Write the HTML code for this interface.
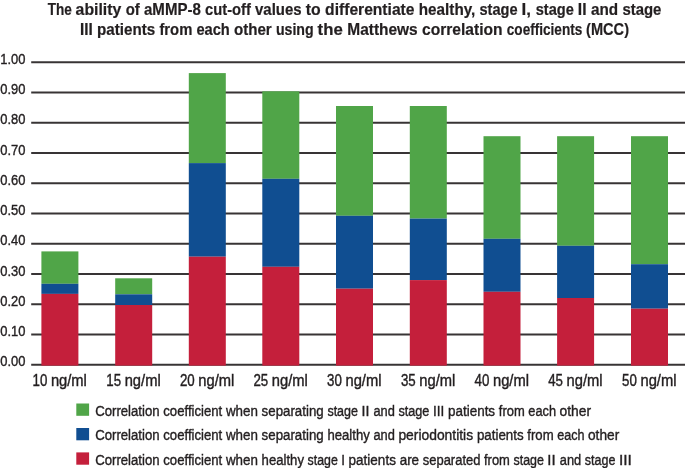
<!DOCTYPE html>
<html lang="en"><head><meta charset="utf-8"><title>aMMP-8 MCC chart</title>
<style>html,body{margin:0;padding:0;background:#fff}svg{display:block}text{font-family:"Liberation Sans",sans-serif;fill:#231f20;stroke:#231f20;stroke-width:0.4px}.t{font-weight:bold;font-size:15.9px;stroke-width:0.2px}.a{font-size:15.3px}.x{font-size:15.6px}.l{font-size:15.2px}</style></head><body>
<svg width="685" height="468" viewBox="0 0 685 468">
<rect width="685" height="468" fill="#fff"/>
<text class="t" x="47.7" y="14.7" textLength="24.1" lengthAdjust="spacingAndGlyphs">The</text>
<text class="t" x="75.6" y="14.7" textLength="45.7" lengthAdjust="spacingAndGlyphs">ability</text>
<text class="t" x="125.7" y="14.7" textLength="14.1" lengthAdjust="spacingAndGlyphs">of</text>
<text class="t" x="144.0" y="14.7" textLength="56.8" lengthAdjust="spacingAndGlyphs">aMMP-8</text>
<text class="t" x="205.0" y="14.7" textLength="45.9" lengthAdjust="spacingAndGlyphs">cut-off</text>
<text class="t" x="255.0" y="14.7" textLength="46.6" lengthAdjust="spacingAndGlyphs">values</text>
<text class="t" x="305.8" y="14.7" textLength="14.9" lengthAdjust="spacingAndGlyphs">to</text>
<text class="t" x="325.1" y="14.7" textLength="89.4" lengthAdjust="spacingAndGlyphs">differentiate</text>
<text class="t" x="418.8" y="14.7" textLength="56.5" lengthAdjust="spacingAndGlyphs">healthy,</text>
<text class="t" x="479.5" y="14.7" textLength="38.1" lengthAdjust="spacingAndGlyphs">stage</text>
<text class="t" x="521.6" y="14.7" textLength="9.4" lengthAdjust="spacingAndGlyphs">I,</text>
<text class="t" x="535.7" y="14.7" textLength="38.1" lengthAdjust="spacingAndGlyphs">stage</text>
<text class="t" x="577.8" y="14.7" textLength="8.7" lengthAdjust="spacingAndGlyphs">II</text>
<text class="t" x="590.9" y="14.7" textLength="27.2" lengthAdjust="spacingAndGlyphs">and</text>
<text class="t" x="622.4" y="14.7" textLength="39.0" lengthAdjust="spacingAndGlyphs">stage</text>
<text class="t" x="80.1" y="35.4" textLength="12.7" lengthAdjust="spacingAndGlyphs">III</text>
<text class="t" x="97.1" y="35.4" textLength="58.1" lengthAdjust="spacingAndGlyphs">patients</text>
<text class="t" x="159.4" y="35.4" textLength="32.9" lengthAdjust="spacingAndGlyphs">from</text>
<text class="t" x="196.4" y="35.4" textLength="33.4" lengthAdjust="spacingAndGlyphs">each</text>
<text class="t" x="233.9" y="35.4" textLength="37.8" lengthAdjust="spacingAndGlyphs">other</text>
<text class="t" x="275.9" y="35.4" textLength="37.8" lengthAdjust="spacingAndGlyphs">using</text>
<text class="t" x="317.6" y="35.4" textLength="25.1" lengthAdjust="spacingAndGlyphs">the</text>
<text class="t" x="347.3" y="35.4" textLength="70.4" lengthAdjust="spacingAndGlyphs">Matthews</text>
<text class="t" x="422.0" y="35.4" textLength="80.5" lengthAdjust="spacingAndGlyphs">correlation</text>
<text class="t" x="506.8" y="35.4" textLength="75.5" lengthAdjust="spacingAndGlyphs">coefficients</text>
<text class="t" x="586.1" y="35.4" textLength="42.9" lengthAdjust="spacingAndGlyphs">(MCC)</text>
<line x1="31.2" x2="685" y1="62.20" y2="62.20" stroke="#383435" stroke-width="1.9"/>
<line x1="31.2" x2="685" y1="92.45" y2="92.45" stroke="#383435" stroke-width="1.9"/>
<line x1="31.2" x2="685" y1="122.70" y2="122.70" stroke="#383435" stroke-width="1.9"/>
<line x1="31.2" x2="685" y1="152.95" y2="152.95" stroke="#383435" stroke-width="1.9"/>
<line x1="31.2" x2="685" y1="183.20" y2="183.20" stroke="#383435" stroke-width="1.9"/>
<line x1="31.2" x2="685" y1="213.45" y2="213.45" stroke="#383435" stroke-width="1.9"/>
<line x1="31.2" x2="685" y1="243.70" y2="243.70" stroke="#383435" stroke-width="1.9"/>
<line x1="31.2" x2="685" y1="273.95" y2="273.95" stroke="#383435" stroke-width="1.9"/>
<line x1="31.2" x2="685" y1="304.20" y2="304.20" stroke="#383435" stroke-width="1.9"/>
<line x1="31.2" x2="685" y1="334.45" y2="334.45" stroke="#383435" stroke-width="1.9"/>
<line x1="31.2" x2="685" y1="364.70" y2="364.70" stroke="#383435" stroke-width="1.9"/>
<text class="a" x="0.3" y="63.90" textLength="25.2" lengthAdjust="spacingAndGlyphs">1.00</text>
<text class="a" x="0.3" y="94.15" textLength="25.2" lengthAdjust="spacingAndGlyphs">0.90</text>
<text class="a" x="0.3" y="124.40" textLength="25.2" lengthAdjust="spacingAndGlyphs">0.80</text>
<text class="a" x="0.3" y="154.65" textLength="25.2" lengthAdjust="spacingAndGlyphs">0.70</text>
<text class="a" x="0.3" y="184.90" textLength="25.2" lengthAdjust="spacingAndGlyphs">0.60</text>
<text class="a" x="0.3" y="215.15" textLength="25.2" lengthAdjust="spacingAndGlyphs">0.50</text>
<text class="a" x="0.3" y="245.40" textLength="25.2" lengthAdjust="spacingAndGlyphs">0.40</text>
<text class="a" x="0.3" y="275.65" textLength="25.2" lengthAdjust="spacingAndGlyphs">0.30</text>
<text class="a" x="0.3" y="305.90" textLength="25.2" lengthAdjust="spacingAndGlyphs">0.20</text>
<text class="a" x="0.3" y="336.15" textLength="25.2" lengthAdjust="spacingAndGlyphs">0.10</text>
<text class="a" x="0.3" y="366.40" textLength="25.2" lengthAdjust="spacingAndGlyphs">0.00</text>
<rect x="41.4" y="251.4" width="37" height="32.4" fill="#50a548"/>
<rect x="41.4" y="283.8" width="37" height="10.1" fill="#104e91"/>
<rect x="41.4" y="293.9" width="37" height="71.7" fill="#c41f3b"/>
<rect x="115.2" y="278.3" width="37" height="16.0" fill="#50a548"/>
<rect x="115.2" y="294.3" width="37" height="10.7" fill="#104e91"/>
<rect x="115.2" y="305.0" width="37" height="60.6" fill="#c41f3b"/>
<rect x="188.8" y="73.1" width="37" height="90.0" fill="#50a548"/>
<rect x="188.8" y="163.1" width="37" height="93.6" fill="#104e91"/>
<rect x="188.8" y="256.7" width="37" height="108.9" fill="#c41f3b"/>
<rect x="262.3" y="91.3" width="37" height="87.5" fill="#50a548"/>
<rect x="262.3" y="178.8" width="37" height="88.0" fill="#104e91"/>
<rect x="262.3" y="266.8" width="37" height="98.8" fill="#c41f3b"/>
<rect x="336.0" y="106.0" width="37" height="109.8" fill="#50a548"/>
<rect x="336.0" y="215.8" width="37" height="72.9" fill="#104e91"/>
<rect x="336.0" y="288.7" width="37" height="76.9" fill="#c41f3b"/>
<rect x="409.8" y="106.0" width="37" height="112.6" fill="#50a548"/>
<rect x="409.8" y="218.6" width="37" height="61.5" fill="#104e91"/>
<rect x="409.8" y="280.1" width="37" height="85.5" fill="#c41f3b"/>
<rect x="483.5" y="136.2" width="37" height="102.6" fill="#50a548"/>
<rect x="483.5" y="238.8" width="37" height="53.0" fill="#104e91"/>
<rect x="483.5" y="291.8" width="37" height="73.8" fill="#c41f3b"/>
<rect x="557.1" y="136.2" width="37" height="109.6" fill="#50a548"/>
<rect x="557.1" y="245.8" width="37" height="52.2" fill="#104e91"/>
<rect x="557.1" y="298.0" width="37" height="67.6" fill="#c41f3b"/>
<rect x="631.0" y="136.2" width="37" height="128.0" fill="#50a548"/>
<rect x="631.0" y="264.2" width="37" height="44.5" fill="#104e91"/>
<rect x="631.0" y="308.7" width="37" height="56.9" fill="#c41f3b"/>
<text class="x" x="32.5" y="386" textLength="14.8" lengthAdjust="spacingAndGlyphs">10</text>
<text class="x" x="50.9" y="386" textLength="36" lengthAdjust="spacingAndGlyphs">ng/ml</text>
<text class="x" x="106.3" y="386" textLength="14.8" lengthAdjust="spacingAndGlyphs">15</text>
<text class="x" x="124.7" y="386" textLength="36" lengthAdjust="spacingAndGlyphs">ng/ml</text>
<text class="x" x="179.9" y="386" textLength="14.8" lengthAdjust="spacingAndGlyphs">20</text>
<text class="x" x="198.3" y="386" textLength="36" lengthAdjust="spacingAndGlyphs">ng/ml</text>
<text class="x" x="253.4" y="386" textLength="14.8" lengthAdjust="spacingAndGlyphs">25</text>
<text class="x" x="271.8" y="386" textLength="36" lengthAdjust="spacingAndGlyphs">ng/ml</text>
<text class="x" x="327.1" y="386" textLength="14.8" lengthAdjust="spacingAndGlyphs">30</text>
<text class="x" x="345.5" y="386" textLength="36" lengthAdjust="spacingAndGlyphs">ng/ml</text>
<text class="x" x="400.9" y="386" textLength="14.8" lengthAdjust="spacingAndGlyphs">35</text>
<text class="x" x="419.3" y="386" textLength="36" lengthAdjust="spacingAndGlyphs">ng/ml</text>
<text class="x" x="474.6" y="386" textLength="14.8" lengthAdjust="spacingAndGlyphs">40</text>
<text class="x" x="493.0" y="386" textLength="36" lengthAdjust="spacingAndGlyphs">ng/ml</text>
<text class="x" x="548.2" y="386" textLength="14.8" lengthAdjust="spacingAndGlyphs">45</text>
<text class="x" x="566.6" y="386" textLength="36" lengthAdjust="spacingAndGlyphs">ng/ml</text>
<text class="x" x="622.1" y="386" textLength="14.8" lengthAdjust="spacingAndGlyphs">50</text>
<text class="x" x="640.5" y="386" textLength="36" lengthAdjust="spacingAndGlyphs">ng/ml</text>
<rect x="76.3" y="403.5" width="12.8" height="12.3" fill="#50a548"/>
<text class="l" x="95.2" y="415.6" textLength="64.4" lengthAdjust="spacingAndGlyphs">Correlation</text>
<text class="l" x="163.3" y="415.6" textLength="58.9" lengthAdjust="spacingAndGlyphs">coefficient</text>
<text class="l" x="225.9" y="415.6" textLength="32.0" lengthAdjust="spacingAndGlyphs">when</text>
<text class="l" x="261.6" y="415.6" textLength="62.1" lengthAdjust="spacingAndGlyphs">separating</text>
<text class="l" x="327.4" y="415.6" textLength="30.6" lengthAdjust="spacingAndGlyphs">stage</text>
<text class="l" x="361.5" y="415.6" textLength="7.9" lengthAdjust="spacingAndGlyphs">II</text>
<text class="l" x="373.4" y="415.6" textLength="21.4" lengthAdjust="spacingAndGlyphs">and</text>
<text class="l" x="398.4" y="415.6" textLength="31.0" lengthAdjust="spacingAndGlyphs">stage</text>
<text class="l" x="432.9" y="415.6" textLength="11.3" lengthAdjust="spacingAndGlyphs">III</text>
<text class="l" x="448.0" y="415.6" textLength="47.1" lengthAdjust="spacingAndGlyphs">patients</text>
<text class="l" x="498.8" y="415.6" textLength="25.9" lengthAdjust="spacingAndGlyphs">from</text>
<text class="l" x="528.3" y="415.6" textLength="27.7" lengthAdjust="spacingAndGlyphs">each</text>
<text class="l" x="559.5" y="415.6" textLength="31.5" lengthAdjust="spacingAndGlyphs">other</text>
<rect x="76.3" y="428.0" width="12.8" height="12.3" fill="#104e91"/>
<text class="l" x="95.2" y="440.1" textLength="64.4" lengthAdjust="spacingAndGlyphs">Correlation</text>
<text class="l" x="163.3" y="440.1" textLength="58.9" lengthAdjust="spacingAndGlyphs">coefficient</text>
<text class="l" x="225.9" y="440.1" textLength="32.0" lengthAdjust="spacingAndGlyphs">when</text>
<text class="l" x="261.6" y="440.1" textLength="62.1" lengthAdjust="spacingAndGlyphs">separating</text>
<text class="l" x="327.4" y="440.1" textLength="42.4" lengthAdjust="spacingAndGlyphs">healthy</text>
<text class="l" x="373.4" y="440.1" textLength="21.4" lengthAdjust="spacingAndGlyphs">and</text>
<text class="l" x="398.4" y="440.1" textLength="74.7" lengthAdjust="spacingAndGlyphs">periodontitis</text>
<text class="l" x="476.9" y="440.1" textLength="46.7" lengthAdjust="spacingAndGlyphs">patients</text>
<text class="l" x="527.3" y="440.1" textLength="26.3" lengthAdjust="spacingAndGlyphs">from</text>
<text class="l" x="557.2" y="440.1" textLength="27.3" lengthAdjust="spacingAndGlyphs">each</text>
<text class="l" x="588.0" y="440.1" textLength="31.2" lengthAdjust="spacingAndGlyphs">other</text>
<rect x="76.3" y="452.4" width="12.8" height="12.3" fill="#c41f3b"/>
<text class="l" x="95.2" y="464.5" textLength="64.4" lengthAdjust="spacingAndGlyphs">Correlation</text>
<text class="l" x="163.3" y="464.5" textLength="58.9" lengthAdjust="spacingAndGlyphs">coefficient</text>
<text class="l" x="225.9" y="464.5" textLength="32.0" lengthAdjust="spacingAndGlyphs">when</text>
<text class="l" x="261.6" y="464.5" textLength="42.4" lengthAdjust="spacingAndGlyphs">healthy</text>
<text class="l" x="307.6" y="464.5" textLength="30.2" lengthAdjust="spacingAndGlyphs">stage</text>
<text class="l" x="341.2" y="464.5" textLength="3.7" lengthAdjust="spacingAndGlyphs">I</text>
<text class="l" x="348.6" y="464.5" textLength="47.3" lengthAdjust="spacingAndGlyphs">patients</text>
<text class="l" x="399.7" y="464.5" textLength="19.4" lengthAdjust="spacingAndGlyphs">are</text>
<text class="l" x="422.8" y="464.5" textLength="57.6" lengthAdjust="spacingAndGlyphs">separated</text>
<text class="l" x="484.0" y="464.5" textLength="25.9" lengthAdjust="spacingAndGlyphs">from</text>
<text class="l" x="513.5" y="464.5" textLength="30.4" lengthAdjust="spacingAndGlyphs">stage</text>
<text class="l" x="547.3" y="464.5" textLength="8.3" lengthAdjust="spacingAndGlyphs">II</text>
<text class="l" x="559.8" y="464.5" textLength="21.4" lengthAdjust="spacingAndGlyphs">and</text>
<text class="l" x="584.8" y="464.5" textLength="30.6" lengthAdjust="spacingAndGlyphs">stage</text>
<text class="l" x="618.9" y="464.5" textLength="13.0" lengthAdjust="spacingAndGlyphs">III</text>
</svg></body></html>
